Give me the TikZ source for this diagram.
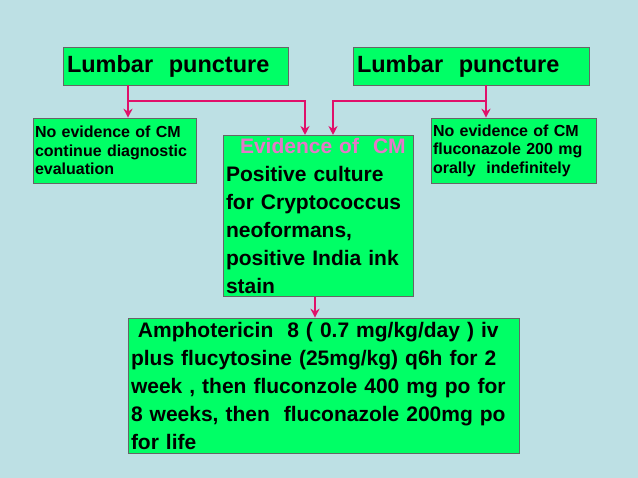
\documentclass[tikz,border=0pt]{standalone}
\usepackage{fontspec}
\setmainfont{Liberation Sans}
\usetikzlibrary{arrows.meta}
\definecolor{bgc}{RGB}{189,224,228}
\definecolor{gbox}{RGB}{0,255,102}
\definecolor{mag}{RGB}{224,16,106}
\definecolor{pinkt}{RGB}{230,120,200}
\begin{document}
\begin{tikzpicture}[x=1pt,y=-1pt,
  box/.style={draw=black!60, fill=gbox, line width=0.6pt, inner sep=3pt, font=\bfseries},
  arr/.style={draw=mag, line width=1.8pt, -{Stealth[length=9pt,width=9pt]}}]
\fill[bgc] (0,0) rectangle (638,478);
\useasboundingbox (0,0) rectangle (638,478);
\node[box, minimum width=225pt, minimum height=38pt, text width=217pt, align=left, font=\bfseries\fontsize{23.5}{26}\selectfont] (lp1) at (175.5,66) {Lumbar\ \ puncture};
\node[box, minimum width=236pt, minimum height=38pt, text width=228pt, align=left, font=\bfseries\fontsize{23.5}{26}\selectfont] (lp2) at (471,66) {Lumbar\ \ puncture};
\node[box, minimum width=163pt, minimum height=65pt, text width=159pt, inner sep=2pt, align=left, font=\bfseries\fontsize{16}{18.5}\selectfont] (l) at (114.5,150.5) {No\ evidence\ of\ CM\\ continue\ diagnostic\\ evaluation};
\node[box, minimum width=165pt, minimum height=65pt, text width=161pt, inner sep=2pt, align=left, font=\bfseries\fontsize{16}{18.5}\selectfont] (r) at (513.5,150.5) {No evidence of CM\\ fluconazole 200 mg\\ orally\ \ indefinitely};
\node[box, minimum width=190pt, minimum height=154pt, text width=184pt, align=left, font=\bfseries\fontsize{21}{28}\selectfont] (c) at (318,216) {\ \ {\color{pinkt}Evidence of\ \ CM}\\ Positive culture\\ for Cryptococcus\\ neoformans,\\ positive India ink\\ stain};
\node[box, minimum width=391pt, minimum height=135pt, text width=385pt, align=left, font=\bfseries\fontsize{21}{28}\selectfont] (b) at (323.5,385.5) {\ Amphotericin\ \ 8 ( 0.7 mg/kg/day ) iv\\ plus flucytosine (25mg/kg) q6h for 2\\ week , then fluconzole 400 mg po for\\ 8 weeks, then\ \ fluconazole 200mg po\\ for life};
\draw[arr] (lp1.south -| 128,0) -- (l.north -| 128,0);
\draw[arr] (128,101) -- (305,101) -- (c.north -| 305,0);
\draw[arr] (lp2.south -| 486,0) -- (r.north -| 486,0);
\draw[arr] (486,101) -- (333,101) -- (c.north -| 333,0);
\draw[arr] (c.south -| 315,0) -- (b.north -| 315,0);
\end{tikzpicture}
\end{document}
